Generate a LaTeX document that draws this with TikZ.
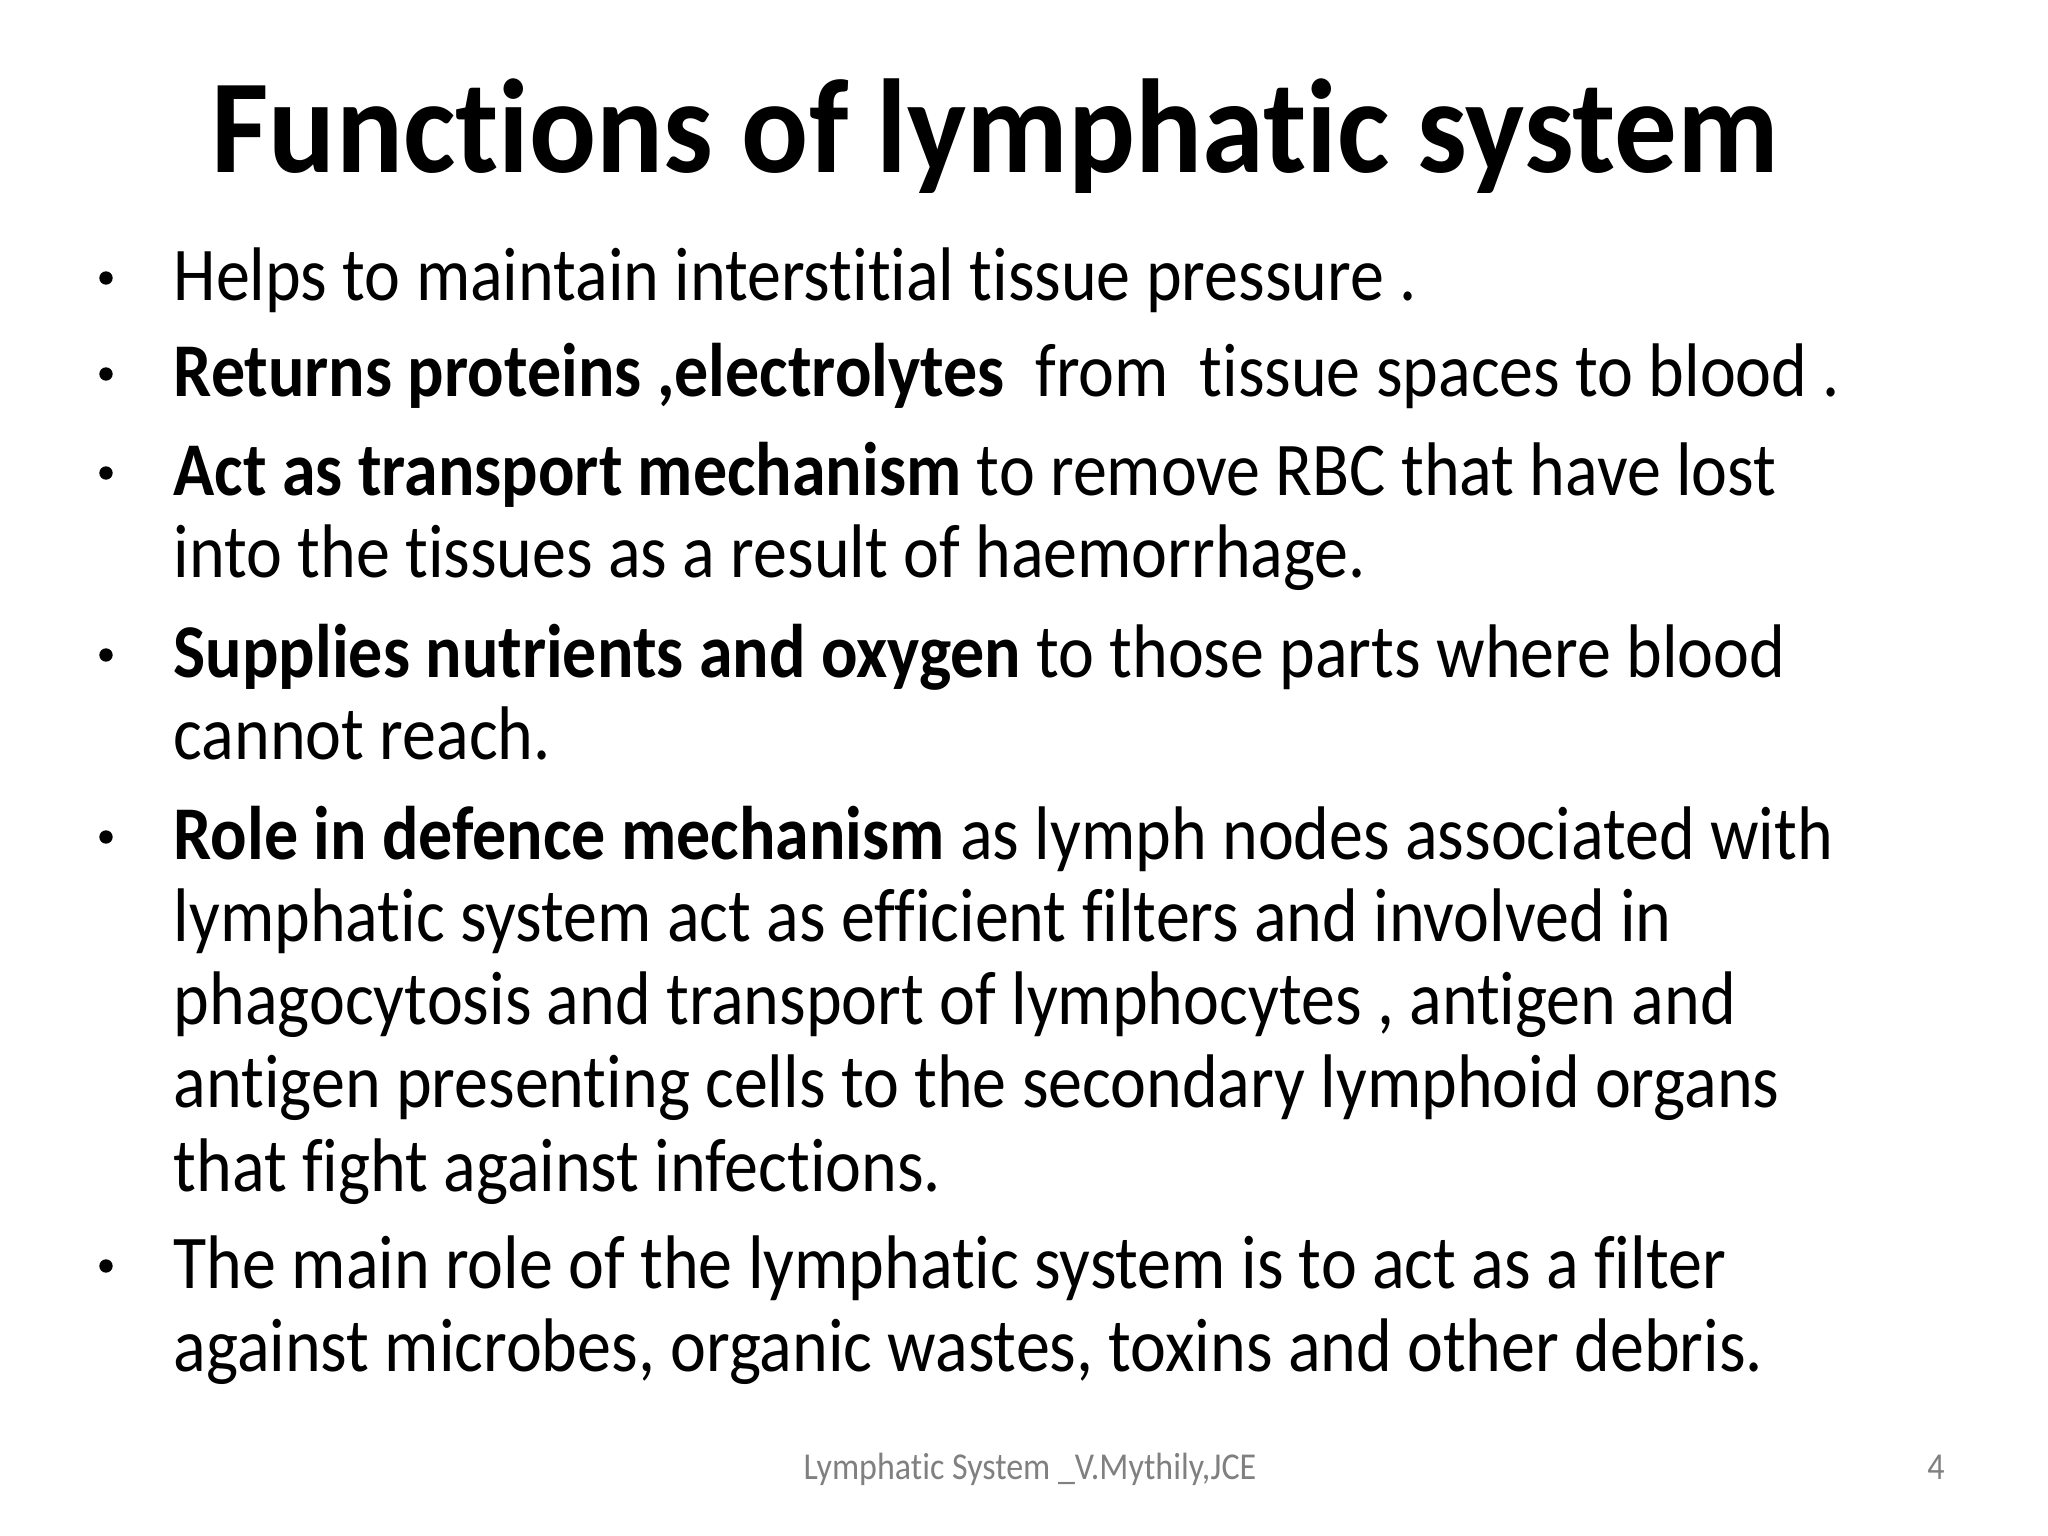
\documentclass[tikz,border=0pt]{standalone}
\usepackage{fontspec}
\setmainfont{Carlito}[FakeStretch=0.895,Ligatures={NoCommon}]
\newfontfamily\titlefont{Carlito}[FakeStretch=0.935,Ligatures={NoCommon}]
\begin{document}
\begin{tikzpicture}[x=0.01cm,y=-0.01cm,
  ln/.style={anchor=base west,inner sep=0pt,font=\fontsize{21.6}{26}\selectfont},
  dot/.style={circle,fill=black,inner sep=0pt,minimum size=3.8pt}]
\useasboundingbox (0,0) rectangle (2048,1536);
\node[anchor=base,inner sep=0pt,font=\titlefont\fontsize{38}{44}\selectfont\bfseries] (title) at (995,172) {Functions of lymphatic system};
\foreach \y/\n in {300/a,396/b,495/c,677/d,859/e,1288/f}{\node[dot] (bul\n) at (106,\y-22) {};}
\node[ln] (l1) at (173,300) {Helps to maintain interstitial tissue pressure .};
\node[ln] (l2) at (173,396) {\textbf{Returns proteins ,electrolytes}\ \ from\ \ tissue spaces to blood .};
\node[ln] (l3) at (173,495) {\textbf{Act as transport mechanism} to remove RBC that have lost};
\node[ln] (l4) at (173,577) {into the tissues as a result of haemorrhage.};
\node[ln] (l5) at (173,677) {\textbf{Supplies nutrients and oxygen} to those parts where blood};
\node[ln] (l6) at (173,759) {cannot reach.};
\node[ln] (l7) at (173,859) {\textbf{Role in defence mechanism} as lymph nodes associated with};
\node[ln] (l8) at (173,941) {lymphatic system act as efficient filters and involved in};
\node[ln] (l9) at (173,1024) {phagocytosis and transport of lymphocytes , antigen and};
\node[ln] (l10) at (173,1107) {antigen presenting cells to the secondary lymphoid organs};
\node[ln] (l11) at (173,1191) {that fight against infections.};
\node[ln] (l12) at (173,1288) {The main role of the lymphatic system is to act as a filter};
\node[ln] (l13) at (173,1371) {against microbes, organic wastes, toxins and other debris.};
\node[anchor=base,inner sep=0pt,text=gray,font=\fontsize{10.8}{12}\selectfont] (foot) at (1030,1479) {Lymphatic System \_V.Mythily,JCE};
\node[anchor=base,inner sep=0pt,text=gray,font=\fontsize{10.8}{12}\selectfont] (pg) at (1936,1479) {4};
\end{tikzpicture}
\end{document}
